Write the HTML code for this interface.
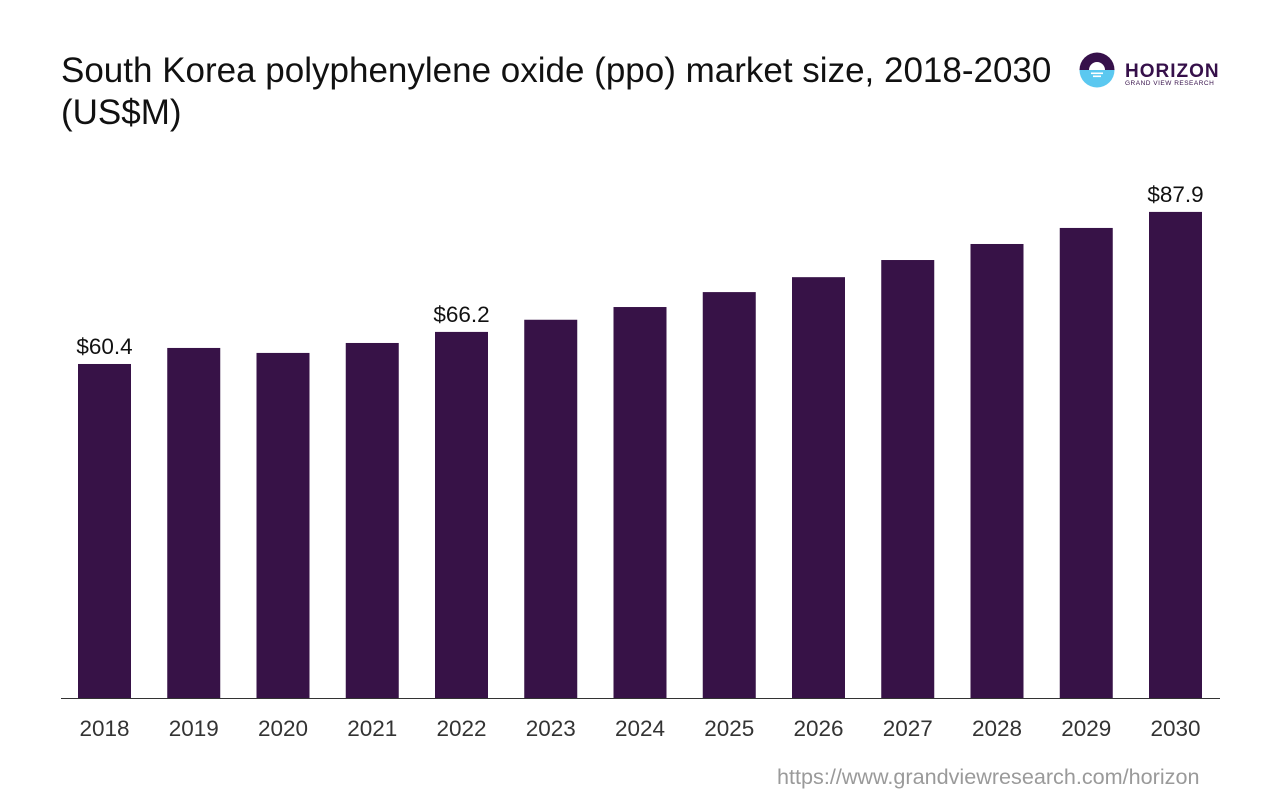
<!DOCTYPE html>
<html><head><meta charset="utf-8"><style>
body{margin:0;width:1280px;height:800px;background:#fff;font-family:"Liberation Sans",Arial,sans-serif;overflow:hidden;position:relative}
.title{position:absolute;left:61px;top:50px;font-size:35px;line-height:42px;color:#111;width:1015px}
.src{position:absolute;left:777px;top:764px;font-size:21.6px;color:#9a9a9a}
</style></head><body>
<div class="title">South Korea polyphenylene oxide (ppo) market size, 2018-2030 (US$M)</div>
<svg style="position:absolute;left:1078px;top:50px" width="150" height="40">
<clipPath id="c"><circle cx="19" cy="20" r="17.5"/></clipPath>
<g clip-path="url(#c)"><rect x="0" y="0" width="40" height="20" fill="#36104a"/><rect x="0" y="20" width="40" height="20" fill="#5bc8f0"/></g>
<path d="M11 20 A8 8 0 0 1 27 20 Z" fill="#fff"/>
<rect x="13" y="22.5" width="12" height="1.6" fill="#fff"/><rect x="15" y="25.5" width="8" height="1.6" fill="#fff"/>
<text x="47" y="27" font-size="19" font-weight="bold" fill="#36104a" letter-spacing="1" font-family="Liberation Sans,sans-serif">HORIZON</text>
<text x="47" y="35" font-size="6.5" fill="#36104a" letter-spacing="0.5" font-family="Liberation Sans,sans-serif">GRAND VIEW RESEARCH</text>
</svg>
<svg id="chart" style="position:absolute;left:0;top:0" width="1280" height="800"></svg>
<div class="src">https://www.grandviewresearch.com/horizon</div>
<script>
const years=["2018","2019","2020","2021","2022","2023","2024","2025","2026","2027","2028","2029","2030"];
const values=[60.4,63.3,62.4,64.2,66.2,68.4,70.7,73.4,76.1,79.2,82.1,85.0,87.9];
const labels=["$60.4","","","","$66.2","","","","","","","","$87.9"];
const svg=document.getElementById('chart');
const NS='http://www.w3.org/2000/svg';
const base=698, k=5.53, x0=78, step=89.25, bw=53;
const yS=v=>base-v*k, xS=i=>x0+i*step;
years.forEach((y,i)=>{
  const r=document.createElementNS(NS,'rect');
  r.setAttribute('x',xS(i));r.setAttribute('y',yS(values[i]));
  r.setAttribute('width',bw);r.setAttribute('height',values[i]*k);r.setAttribute('fill','#371247');
  
  
  svg.appendChild(r);
  const t=document.createElementNS(NS,'text');
  t.setAttribute('x',xS(i)+bw/2);t.setAttribute('y',736);t.setAttribute('text-anchor','middle');
  t.setAttribute('font-size','22.5');t.setAttribute('fill','#333');t.textContent=y;
  
  
  svg.appendChild(t);
  if(labels[i]){
    const l=document.createElementNS(NS,'text');
    l.setAttribute('x',xS(i)+bw/2);l.setAttribute('y',yS(values[i])-10);l.setAttribute('text-anchor','middle');
    l.setAttribute('font-size','22.5');l.setAttribute('fill','#111');l.textContent=labels[i];
    
    
    svg.appendChild(l);
  }
});
const ax=document.createElementNS(NS,'line');
ax.setAttribute('x1',61);ax.setAttribute('x2',1220);ax.setAttribute('y1',base+0.5);ax.setAttribute('y2',base+0.5);ax.setAttribute('stroke','#333');


svg.appendChild(ax);
</script>
</body></html>
